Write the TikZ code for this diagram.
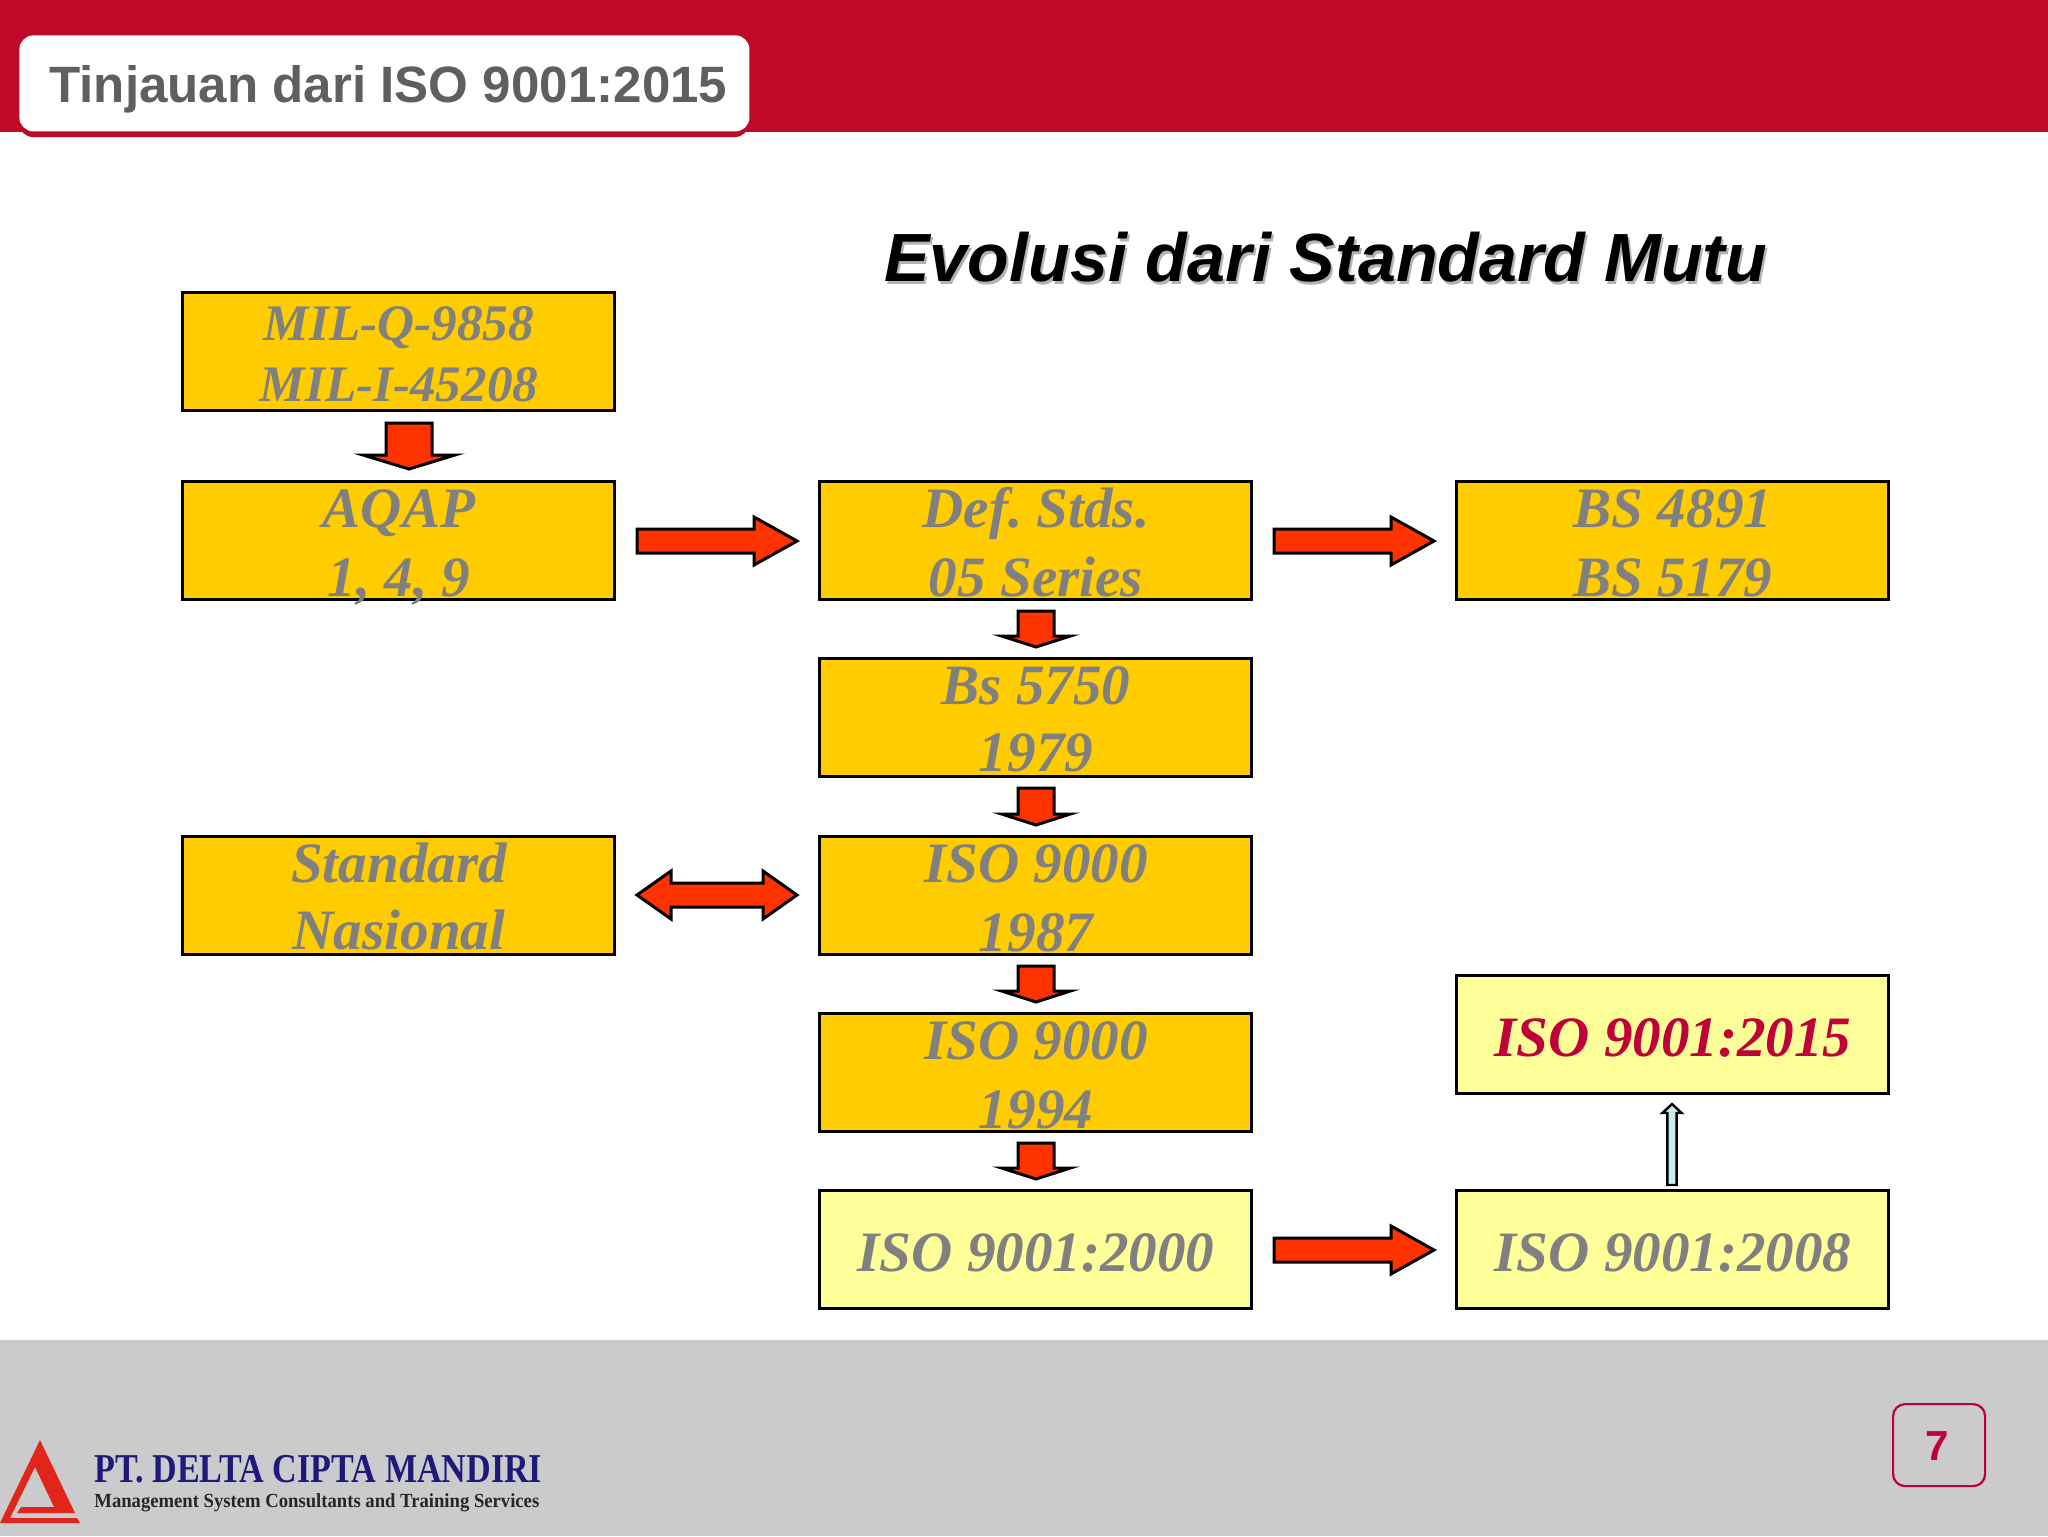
\documentclass[tikz,border=0pt]{standalone}
\usepackage{fontspec}
\usetikzlibrary{calc}
\setmainfont{Liberation Serif}
\newfontfamily\headfont{Liberation Sans}
\newfontfamily\logofont[FakeStretch=0.832]{Liberation Serif}
\newfontfamily\logosubfont[FakeStretch=0.933]{Liberation Serif}
\definecolor{bandred}{HTML}{BE0A28}
\definecolor{footgray}{HTML}{CBCACC}
\definecolor{boxgold}{HTML}{FFCC00}
\definecolor{boxpale}{HTML}{FFFF99}
\definecolor{textgray}{HTML}{808080}
\definecolor{arrowred}{HTML}{FF3300}
\definecolor{crimson}{HTML}{C00038}
\definecolor{titlegray}{HTML}{5F5F5F}
\definecolor{logored}{HTML}{E0251B}
\definecolor{logoblue}{HTML}{1F1A7A}
\definecolor{palecyan}{HTML}{CCECEC}
% px = 0.5pt
\newcommand{\pxfont}[2]{\fontsize{#1pt}{#2pt}\selectfont}
\frenchspacing
\tikzset{
  x=0.5pt, y=-0.5pt,
  stagebox/.style={draw=black, line width=1.5pt, minimum width=216pt, minimum height=59pt,
    inner sep=0pt, outer sep=0pt, anchor=north west, align=center, text=textgray,
    font=\bfseries\itshape\pxfont{28.4}{34}},
  goldbox/.style={stagebox, fill=boxgold},
  palebox/.style={stagebox, fill=boxpale},
  blockarrow/.style={draw=black, line width=1.5pt, fill=arrowred, miter limit=20},
  thinarrow/.style={draw=black, line width=1.2pt, fill=palecyan, miter limit=20},
}
% #2 from, #3 to, #4 shaft half width, #5 head half width, #6 head length (pt)
\newcommand{\blockarr}[6][blockarrow]{%
  \coordinate (h) at ($(#3)!#6!(#2)$);
  \draw[#1] ($(#2)!#4!90:(#3)$) -- ($(h)!#4!90:(#3)$) -- ($(h)!#5!90:(#3)$) -- (#3)
    -- ($(h)!#5!-90:(#3)$) -- ($(h)!#4!-90:(#3)$) -- ($(#2)!#4!-90:(#3)$) -- cycle;}
% two-headed: #1 one tip, #2 other tip, #3 shaft half, #4 head half, #5 head length
\newcommand{\dblarr}[5]{%
  \coordinate (ha) at ($(#1)!#5!(#2)$);
  \coordinate (hb) at ($(#2)!#5!(#1)$);
  \draw[blockarrow] (#1) -- ($(ha)!#4!90:(#2)$) -- ($(ha)!#3!90:(#2)$) -- ($(hb)!#3!-90:(#1)$) -- ($(hb)!#4!-90:(#1)$) -- (#2)
    -- ($(hb)!#4!90:(#1)$) -- ($(hb)!#3!90:(#1)$) -- ($(ha)!#3!-90:(#2)$) -- ($(ha)!#4!-90:(#2)$) -- cycle;}
\begin{document}
\begin{tikzpicture}
\useasboundingbox (0,0) rectangle (2048,1536);
\fill[white] (0,0) rectangle (2048,1536);
\fill[bandred] (0,0) rectangle (2048,132);
\fill[footgray] (0,1340) rectangle (2048,1536);
% title tab
\fill[bandred, rounded corners=7pt] (19,60) rectangle (749,137);
\node[fill=white, rounded corners=7pt, minimum width=365pt, minimum height=48pt, inner sep=0pt, anchor=north west] (tab) at (19,35) {};
\node[anchor=base west, inner sep=0pt, text=titlegray, font=\headfont\bfseries\pxfont{25.55}{30}] (tabtext) at (49,103) {Tinjauan dari ISO 9001:2015};
% heading
\node[anchor=base west, inner sep=0pt, text=black!30, font=\headfont\bfseries\itshape\pxfont{34.1}{40}] (headshadow) at (886,284) {Evolusi dari Standard Mutu};
\node[anchor=base west, inner sep=0pt, text=black, font=\headfont\bfseries\itshape\pxfont{34.1}{40}] (head) at (884,281) {Evolusi dari Standard Mutu};
% boxes
\node[goldbox] (mil) at (182,292) {};
\node[goldbox] (aqap) at (182,481) {};
\node[goldbox] (def) at (819,481) {};
\node[goldbox] (bs) at (1456,481) {};
\node[goldbox] (bs57) at (819,658) {};
\node[goldbox] (nas) at (182,836) {};
\node[goldbox] (iso87) at (819,836) {};
\node[goldbox] (iso94) at (819,1013) {};
\node[palebox] (iso00) at (819,1190) {};
\node[palebox] (iso08) at (1456,1190) {};
\node[palebox] (iso15) at (1456,975) {};
% box texts, each line on its own baseline
\tikzset{boxline/.style={anchor=base, inner sep=0pt, text=textgray, font=\bfseries\itshape\pxfont{28.55}{34}},
 milline/.style={boxline, font=\bfseries\itshape\pxfont{25.6}{30}}}
\node[milline] (t1) at ($(mil.north)+(1,48)$) {MIL-Q-9858};
\node[milline] (t2) at ($(mil.north)+(1,109)$) {MIL-I-45208};
\node[boxline] (t3) at ($(aqap.north)+(1,46)$) {AQAP};
\node[boxline] (t4) at ($(aqap.north)+(1,115)$) {1, 4, 9};
\node[boxline] (t5) at ($(def.north)+(1,46)$) {Def. Stds.};
\node[boxline] (t6) at ($(def.north)+(1,115)$) {05 Series};
\node[boxline] (t7) at ($(bs.north)+(1,46)$) {BS 4891};
\node[boxline] (t8) at ($(bs.north)+(1,115)$) {BS 5179};
\node[boxline] (t9) at ($(bs57.north)+(1,46)$) {Bs 5750};
\node[boxline] (t10) at ($(bs57.north)+(1,113)$) {1979};
\node[boxline] (t11) at ($(nas.north)+(1,46)$) {Standard};
\node[boxline] (t12) at ($(nas.north)+(1,113)$) {Nasional};
\node[boxline] (t13) at ($(iso87.north)+(1,46)$) {ISO 9000};
\node[boxline] (t14) at ($(iso87.north)+(1,115)$) {1987};
\node[boxline] (t15) at ($(iso94.north)+(1,46)$) {ISO 9000};
\node[boxline] (t16) at ($(iso94.north)+(1,115)$) {1994};
\node[boxline] (t17) at ($(iso00.north)+(1,81)$) {ISO 9001:2000};
\node[boxline] (t18) at ($(iso08.north)+(1,81)$) {ISO 9001:2008};
\node[boxline, text=crimson] (t19) at ($(iso15.north)+(1,81)$) {ISO 9001:2015};
% right arrows
\coordinate (a1s) at ($(aqap.east)+(23,1)$); \coordinate (a1e) at ($(def.west)+(-22,1)$);
\blockarr{a1s}{a1e}{6pt}{12pt}{21.5pt}
\coordinate (a2s) at ($(def.east)+(23,1)$); \coordinate (a2e) at ($(bs.west)+(-22,1)$);
\blockarr{a2s}{a2e}{6pt}{12pt}{21.5pt}
\coordinate (a3s) at ($(iso00.east)+(23,1)$); \coordinate (a3e) at ($(iso08.west)+(-22,1)$);
\blockarr{a3s}{a3e}{6pt}{12pt}{21.5pt}
% double arrow
\coordinate (dbA) at ($(nas.east)+(23,0)$); \coordinate (dbB) at ($(iso87.west)+(-22,0)$);
\dblarr{dbA}{dbB}{6pt}{12pt}{17pt}
% down arrows
\coordinate (d1s) at ($(mil.south)+(11,13)$); \coordinate (d1e) at ($(aqap.north)+(11,-12)$);
\blockarr{d1s}{d1e}{11.5pt}{23pt}{7pt}
\coordinate (d2s) at ($(def.south)+(1,12)$); \coordinate (d2e) at ($(bs57.north)+(1,-11)$);
\blockarr{d2s}{d2e}{9pt}{17.2pt}{5.5pt}
\coordinate (d3s) at ($(bs57.south)+(1,12)$); \coordinate (d3e) at ($(iso87.north)+(1,-11)$);
\blockarr{d3s}{d3e}{9pt}{17.2pt}{5.5pt}
\coordinate (d4s) at ($(iso87.south)+(1,12)$); \coordinate (d4e) at ($(iso94.north)+(1,-11)$);
\blockarr{d4s}{d4e}{9pt}{17.2pt}{5.5pt}
\coordinate (d5s) at ($(iso94.south)+(1,12)$); \coordinate (d5e) at ($(iso00.north)+(1,-11)$);
\blockarr{d5s}{d5e}{9pt}{17.2pt}{5.5pt}
% up arrow
\coordinate (u1s) at ($(iso08.north)+(0,-5)$); \coordinate (u1e) at ($(iso15.south)+(0,11)$);
\blockarr[thinarrow]{u1s}{u1e}{2.3pt}{4.8pt}{4.5pt}
% footer
\node[draw=crimson, line width=1.1pt, rounded corners=6pt, minimum width=46pt, minimum height=41pt, inner sep=0pt, anchor=north west] (pg) at (1892,1403) {};
\node[text=crimson, inner sep=0pt, font=\headfont\bfseries\pxfont{21}{24}] (pgn) at ($(pg.center)+(-2,1)$) {7};
% logo
\fill[logored] (40,1440) -- (75,1513) -- (17,1513) -- (21,1507) -- (54,1507) -- (35,1467) -- (10,1518) -- (77,1518) -- (80,1523) -- (0,1523) -- cycle;
\node[anchor=base west, inner sep=0pt, text=logoblue, font=\logofont\bfseries\pxfont{20.5}{24}] (co) at (94,1482) {PT. DELTA CIPTA MANDIRI};
\node[anchor=base west, inner sep=0pt, text=black!85, font=\logosubfont\bfseries\pxfont{10}{12}] (cosub) at (94,1507) {Management System Consultants and Training Services};
\end{tikzpicture}
\end{document}
